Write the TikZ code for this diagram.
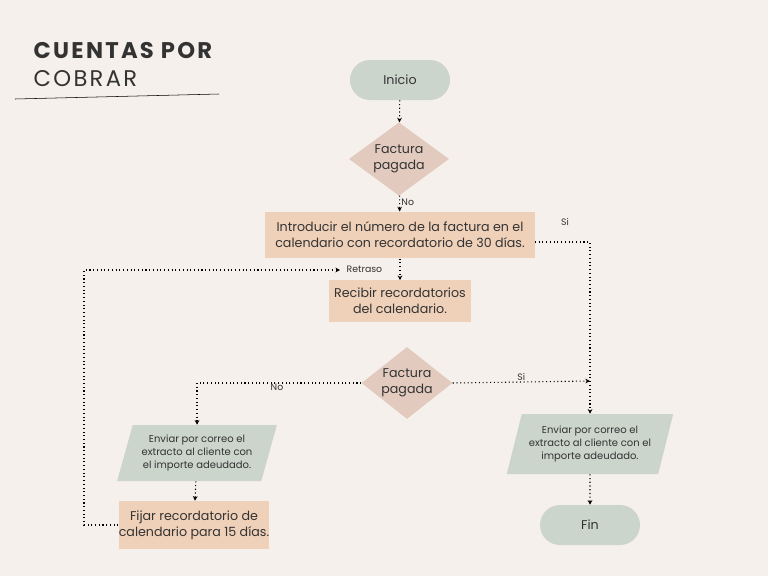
\documentclass[tikz,border=0pt]{standalone}
\usepackage{fontspec}
\setmainfont{Poppins}
\usetikzlibrary{shapes.geometric,arrows.meta}
\definecolor{bg}{HTML}{F5F0EB}
\definecolor{sage}{HTML}{CBD5CC}
\definecolor{rose}{HTML}{E2CBBE}
\definecolor{peach}{HTML}{EFD0B9}
\definecolor{ink}{HTML}{333333}
\begin{document}
\begin{tikzpicture}[x=0.75pt,y=-0.75pt,
  txt/.style={text=ink,font=\fontsize{9.5}{12}\selectfont,align=center},
  term/.style={txt,fill=sage,rounded corners=15pt,minimum width=75pt,minimum height=30pt,inner sep=0pt},
  dia/.style={txt,fill=rose,diamond,minimum width=#1,inner sep=0pt,aspect=1.4},
  proc/.style={txt,fill=peach,inner sep=0pt},
  para/.style={txt,fill=sage,trapezium,trapezium left angle=70,trapezium right angle=110,trapezium stretches=true,inner sep=0pt,font=\fontsize{7.5}{10}\selectfont},
  con/.style={dotted,thick,draw=black,-{Stealth[length=3.5pt,width=3.5pt]}},
  lbl/.style={text=ink,font=\fontsize{7}{9}\selectfont}]
\fill[bg] (0,0) rectangle (768,576);
\node[anchor=base west,text=ink,font=\fontsize{17}{20}\selectfont\addfontfeatures{LetterSpace=10}\bfseries] (t1) at (29,58) {CUENTAS POR};
\node[anchor=base west,text=ink,font=\fontsize{17}{20}\selectfont\addfontfeatures{LetterSpace=10}] (t2) at (29,86) {COBRAR};
\draw[black,thin] (15,99) -- (219,94);
\node[term] (ini) at (400,80) {Inicio};
\node[dia=75pt,minimum height=55pt] (d1) at (399,159) {Factura\\pagada};
\node[proc,minimum width=202pt,minimum height=35pt] (b1) at (400,235) {Introducir el número de la factura en el\\calendario con recordatorio de 30 días.};
\node[proc,minimum width=106pt,minimum height=31pt] (b2) at (400,301) {Recibir recordatorios\\del calendario.};
\node[dia=66pt,minimum height=54pt] (d2) at (407,383) {Factura\\pagada};
\node[para,minimum width=120pt,minimum height=42pt] (p1) at (197,453) {Enviar por correo el\\extracto al cliente con\\el importe adeudado.};
\node[proc,minimum width=111pt,minimum height=36pt] (b3) at (194,525) {Fijar recordatorio de\\calendario para 15 días.};
\node[para,minimum width=125pt,minimum height=45pt] (p2) at (590,444) {Enviar por correo el\\extracto al cliente con el\\importe adeudado.};
\node[term] (fin) at (590,525) {Fin};
\draw[con] (ini) -- (d1);
\draw[con] (d1) -- node[lbl,right,pos=0.45,inner sep=1pt]{No} (b1);
\draw[con] (b1.east |- 0,242) -| (p2.north);
\node[lbl] (si1) at (565,222) {Si};
\draw[con] (b1) -- (b2);
\draw[con] (d2.west) -| (p1.north);
\node[lbl] (no2) at (277,387) {No};
\coordinate (j) at (590,381);
\draw[con] (d2.east) -- node[lbl,above,inner sep=1pt]{Si} (j);
\draw[con] (p1) -- (b3);
\coordinate (r) at (340,270);
\draw[con] (b3.west) -| (84,270) -- (r);
\node[lbl,anchor=west] (ret) at (342,269) {Retraso};
\draw[con] (p2) -- (fin);
\end{tikzpicture}
\end{document}
